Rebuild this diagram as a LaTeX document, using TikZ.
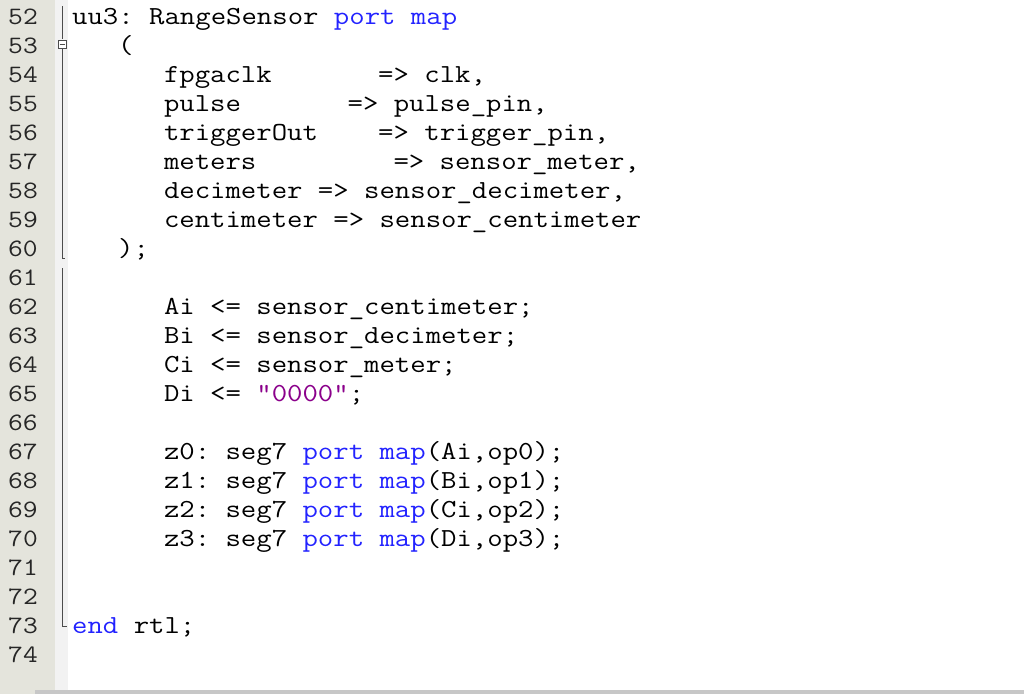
\documentclass[tikz,border=0pt]{standalone}
\usepackage{fontspec}
\setmonofont{Latin Modern Mono}[FakeStretch=1.15]
\definecolor{kw}{HTML}{2323FF}
\definecolor{str}{HTML}{8B008B}
\definecolor{gut}{HTML}{E4E4DC}
\definecolor{fold}{HTML}{F2F2F2}
\newcommand{\cx}[3]{\node[code] at ({72+15.3*#1},{24+29*(#2-52)}) {#3};}
\tikzset{code/.style={anchor=base west,inner sep=0pt,font=\ttfamily\fontsize{26}{26}\selectfont},
 num/.style={anchor=base west,inner sep=0pt,font=\ttfamily\fontsize{25}{26}\selectfont,text=black!85}}
\begin{document}
\begin{tikzpicture}[x=1pt,y=-1pt]
\useasboundingbox (0,0) rectangle (1024,694);
\fill[white] (0,0) rectangle (1024,694);
\fill[gut] (0,0) rectangle (55,694);
\fill[fold] (55,0) rectangle (68,694);
\fill[black!22] (35,690) rectangle (1024,694);
% fold lines
\draw[black!70,line width=0.8pt] (62,6) -- (62,39);
\draw[black!70,line width=0.8pt] (62,49) -- (62,258) -- (65,258);
\draw[black!70,line width=0.8pt] (62,268) -- (62,626) -- (67,626);
\draw[black!70,fill=white,line width=0.7pt] (58,40) rectangle (66,48);
\draw[black!70,line width=0.7pt] (59.5,44) -- (64.5,44);
\foreach \n in {52,...,74}{\node[num] at (8,{24+29*(\n-52)}) {\n};}
\cx{0}{52}{uu3: RangeSensor \textcolor{kw}{port map}}
\cx{3}{53}{(}
\cx{6}{54}{fpgaclk}\cx{20}{54}{=> clk,}
\cx{6}{55}{pulse}\cx{18}{55}{=> pulse\_pin,}
\cx{6}{56}{triggerOut}\cx{20}{56}{=> trigger\_pin,}
\cx{6}{57}{meters}\cx{21}{57}{=> sensor\_meter,}
\cx{6}{58}{decimeter => sensor\_decimeter,}
\cx{6}{59}{centimeter => sensor\_centimeter}
\cx{3}{60}{);}
\cx{6}{62}{Ai <= sensor\_centimeter;}
\cx{6}{63}{Bi <= sensor\_decimeter;}
\cx{6}{64}{Ci <= sensor\_meter;}
\cx{6}{65}{Di <= \textcolor{str}{"0000"};}
\cx{6}{67}{z0: seg7 \textcolor{kw}{port map}(Ai,op0);}
\cx{6}{68}{z1: seg7 \textcolor{kw}{port map}(Bi,op1);}
\cx{6}{69}{z2: seg7 \textcolor{kw}{port map}(Ci,op2);}
\cx{6}{70}{z3: seg7 \textcolor{kw}{port map}(Di,op3);}
\cx{0}{73}{\textcolor{kw}{end} rtl;}
\end{tikzpicture}
\end{document}
